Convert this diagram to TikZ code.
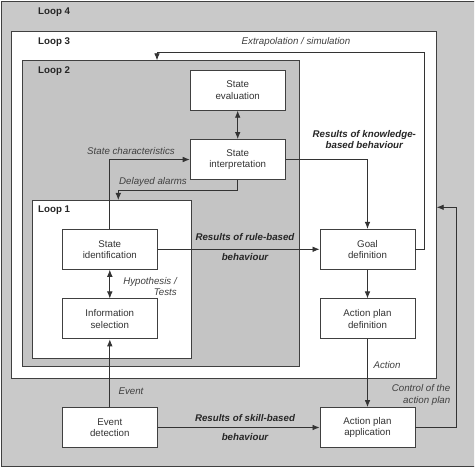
\documentclass[tikz,border=0pt]{standalone}
\usepackage{fontspec}
\setmainfont{Liberation Sans}
\usetikzlibrary{arrows.meta}
\begin{document}
\begin{tikzpicture}[x=.03cm,y=-.03cm,
  font=\fontsize{8.3}{9.6}\selectfont,
  tip/.tip={Latex[length=6pt,width=4.8pt]},
  box/.style={draw=black!75,fill=white,line width=.75pt,minimum width=2.85cm,
    minimum height=1.2cm,align=center,inner sep=1pt,text=black!80},
  lab/.style={font=\fontsize{8.3}{9.6}\selectfont\itshape,text=black!75,inner sep=0pt},
  res/.style={font=\fontsize{8.3}{9.6}\selectfont\bfseries\itshape,text=black!85,inner sep=0pt},
  lp/.style={font=\fontsize{8.3}{9.6}\selectfont\bfseries,text=black!85,anchor=west,inner sep=0pt}]
  \useasboundingbox (0,0) rectangle (474,474);
  \begin{scope}[draw=black!75,line width=.75pt]
    \clip (0,0) rectangle (474,474);
    \filldraw[fill=black!21] (1,1) rectangle (480,466.7); % loop 4
    \filldraw[fill=white] (11.7,31.7) rectangle (436.7,378.3); % loop 3
    \filldraw[fill=black!23] (22,60.3) rectangle (299,366.7); % loop 2
    \filldraw[fill=white] (32.3,200) rectangle (191.3,358.3); % loop 1
  \end{scope}
  \path
  (38,11.7) node[lp] (l4) {Loop 4}
  (38,42) node[lp] (l3) {Loop 3}
  (38,71) node[lp] (l2) {Loop 2}
  (38,210) node[lp] (l1) {Loop 1};
  \path
  (237.7,90.2) node[box] (eval) {State\\evaluation} % <<< cot giua
  ++(0,69.3) node[box] (interp) {State\\interpretation}
  (109.8,249.3) node[box] (ident) {State\\identification} % <<< cot trai
  ++(0,69.6) node[box] (info) {Information\\selection}
  ++(0,108.6) node[box] (event) {Event\\detection}
  (367.5,249.3) node[box] (goal) {Goal\\definition} % <<< cot phai
  ++(0,69.6) node[box] (apd) {Action plan\\definition}
  ++(0,108.6) node[box] (apa) {Action plan\\application};
  \path
  (296,41.7) node[lab] (extra) {Extrapolation / simulation}
  (364.3,139.5) node[res,align=center] (know) {Results of knowledge-\\based behaviour}
  (131,150.7) node[lab] (chars) {State characteristics}
  (153,181.7) node[lab] (alarm) {Delayed alarms}
  (245,237.3) node[res] (rule) {Results of rule-based}
  (245,256.7) node[res] (rule2) {behaviour}
  (177,286.5) node[lab,align=right,anchor=east] (hyp) {Hypothesis /\\Tests}
  (118.3,391.3) node[lab,anchor=west] (ev) {Event}
  (373.3,365) node[lab,anchor=west] (act) {Action}
  (450.5,395) node[lab,align=right,anchor=east] (ctl) {Control of the\\action plan}
  (245,418) node[res] (skill) {Results of skill-based}
  (245,436.7) node[res] (skill2) {behaviour};
  \coordinate (l1top) at (118.3,200);
  \coordinate (l2top) at (157,60.3);
  \coordinate (l3right) at (436.7,207.3);
  \coordinate (up) at (424,52);
  \coordinate (back) at (456,207.3);
  \begin{scope}[-tip,draw=black!80,line width=.7pt]
    \draw[tip-tip] (eval) -- (interp);
    \draw (ident.north) |- (interp.west);
    \draw (interp.south) -- ++(0,10.5) -| (l1top);
    \draw (interp.east) -| (goal.north);
    \draw (goal.east) -| (up) -| (l2top);
    \draw (ident) -- (goal);
    \draw[tip-tip] (ident) -- (info);
    \draw (event) -- (info);
    \draw (goal) -- (apd);
    \draw (apd) -- (apa);
    \draw (event) -- (apa);
    \draw (apa.east) -| (back) -- (l3right);
  \end{scope}
\end{tikzpicture}
\end{document}
